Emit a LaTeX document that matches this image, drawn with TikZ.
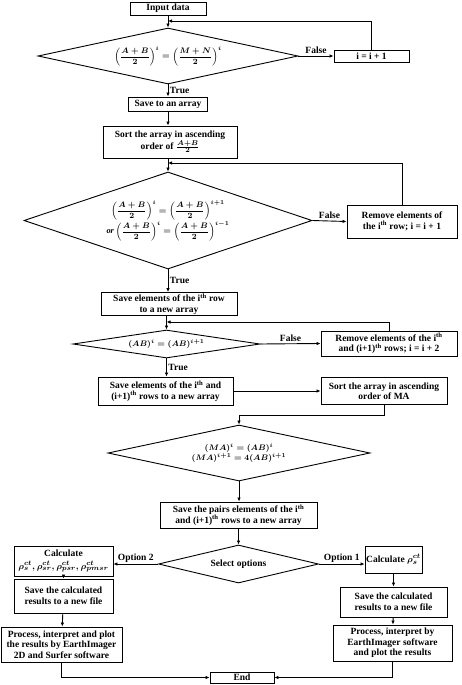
\documentclass[tikz,border=0pt]{standalone}
\usepackage{fontspec}
\setmainfont{Liberation Serif}
\usetikzlibrary{shapes.geometric,arrows.meta}
\begin{document}
\boldmath
\begin{tikzpicture}[x=1pt,y=-1pt,
  font=\fontsize{9.5}{10.5}\selectfont\bfseries\boldmath,
  box/.style={draw, line width=0.9pt, align=center, inner sep=1pt, fill=white},
  dec/.style={draw, diamond, line width=0.9pt, inner sep=0pt},
  dtext/.style={align=center, inner sep=0pt, font=\fontsize{8.3}{12}\selectfont\bfseries\boldmath},
  arr/.style={line width=0.9pt, -{Latex[length=4pt,width=3.5pt]}},
  ln/.style={line width=0.9pt},
  lab/.style={inner sep=1.5pt}]
\useasboundingbox (0,0) rectangle (462,685);
% nodes
\node[box, minimum width=76pt, minimum height=13pt] (in) at (168,8.5) {Input data};
\node[dec, minimum width=260pt, minimum height=56pt] (d1) at (168,56) {};
\node[dtext] (t1) at (d1.center)
  {$\displaystyle\left(\frac{A+B}{2}\right)^{i}=\left(\frac{M+N}{2}\right)^{i}$};
\node[box, minimum width=75pt, minimum height=12pt] (inc) at (371.5,56) {i = i + 1};
\node[box, minimum width=79pt, minimum height=14pt] (save1) at (168,104) {Save to an array};
\node[box, minimum width=134pt, minimum height=32pt] (sort1) at (170,142)
  {Sort the array in ascending\\ order of $\frac{A+B}{2}$};
\node[dec, minimum width=288pt, minimum height=97pt] (d2) at (168,220.5) {};
\node[dtext] (t2) at (d2.center)
  {$\displaystyle\left(\frac{A+B}{2}\right)^{i}=\left(\frac{A+B}{2}\right)^{i+1}$\\
   $\displaystyle\mathit{or}\left(\frac{A+B}{2}\right)^{i}=\left(\frac{A+B}{2}\right)^{i-1}$};
\node[box, minimum width=110pt, minimum height=33pt] (rm1) at (402,221.5)
  {Remove elements of\\ the i\textsuperscript{th} row; i = i + 1};
\node[box, minimum width=136pt, minimum height=22pt] (save2) at (169,304)
  {Save elements of the i\textsuperscript{th} row\\ to a new array};
\node[dec, minimum width=187pt, minimum height=28pt] (d3) at (166.5,344) {};
\node[dtext] (t3) at (d3.center) {$(AB)^{i}=(AB)^{i+1}$};
\node[box, minimum width=136pt, minimum height=25pt] (rm2) at (389,343.5)
  {Remove elements of the i\textsuperscript{th}\\ and (i+1)\textsuperscript{th} rows; i = i + 2};
\node[box, minimum width=135pt, minimum height=28pt] (save3) at (165.5,391)
  {Save elements of the i\textsuperscript{th} and\\ (i+1)\textsuperscript{th} rows to a new array};
\node[box, minimum width=126pt, minimum height=27pt] (sortMA) at (384,391)
  {Sort the array in ascending\\ order of MA};
\node[dec, minimum width=262pt, minimum height=56pt] (d4) at (239,453) {};
\node[dtext, font=\fontsize{8.3}{10}\selectfont\bfseries\boldmath] (t4) at (d4.center)
  {$(MA)^{i}=(AB)^{i}$\\ $(MA)^{i+1}=4(AB)^{i+1}$};
\node[box, minimum width=157pt, minimum height=26pt] (savep) at (238.5,515)
  {Save the pairs elements of the i\textsuperscript{th}\\ and (i+1)\textsuperscript{th} rows to a new array};
\node[dec, minimum width=160pt, minimum height=38pt] (d5) at (238.5,564) {};
\node[inner sep=0pt] (t5) at (d5.center) {Select options};
\node[box, minimum width=99pt, minimum height=30pt] (calcL) at (63.5,561)
  {Calculate\\[2pt] $\rho_s^{ct}{,}\,\rho_{sr}^{ct}{,}\,\rho_{psr}^{ct}{,}\,\rho_{pmsr}^{ct}$};
\node[box, minimum width=57pt, minimum height=27pt] (calcR) at (393.5,559.5)
  {Calculate $\rho_s^{ct}$};
\node[box, minimum width=99pt, minimum height=34pt] (saveL) at (63.5,596)
  {Save the calculated\\ results to a new file};
\node[box, minimum width=107pt, minimum height=30pt] (saveR) at (393.5,602)
  {Save the calculated\\ results to a new file};
\node[box, minimum width=121pt, minimum height=35pt] (procL) at (61.5,644.5)
  {Process, interpret and plot\\ the results by EarthImager\\ 2D and Surfer software};
\node[box, minimum width=119pt, minimum height=36pt] (procR) at (392.5,643)
  {Process, interpret by\\ EarthImager software\\ and plot the results};
\node[box, minimum width=64pt, minimum height=11pt] (end) at (242,677.5) {End};
% junction coordinates
\coordinate (j1) at (168,21);
\coordinate (j2) at (168,163);
\coordinate (j3) at (166.5,322);
\coordinate (k) at (239,415);
% connectors
\draw[arr] (in) -- (d1);
\draw[arr] (d1.east) -- node[lab, above] {False} (inc.west);
\draw[arr] (inc.north) |- (j1);
\draw[arr] (d1.south) -- node[lab, right] {True} (save1.north);
\draw[arr] (save1) -- (save1 |- sort1.north);
\draw[arr] (sort1.south -| d2.north) -- (d2.north);
\draw[arr] (d2.east) -- node[lab, above] {False} (rm1.west);
\draw[arr] (rm1.north) |- (j2);
\draw[arr] (d2.south) -- node[lab, right] {True} (d2.south |- save2.north);
\draw[arr] (save2.south -| d3.north) -- (d3.north);
\draw[arr] (d3.east) -- node[lab, above] {False} (rm2.west);
\draw[arr] (rm2.north) |- (j3);
\draw[arr] (d3.south) -- node[lab, right] {True} (d3.south |- save3.north);
\draw[arr] (save3.east) -- (save3.east -| sortMA.west);
\draw[ln] (sortMA.south) |- (k);
\draw[arr] (k) -- (d4.north);
\draw[arr] (d4.south) -- (d4.south |- savep.north);
\draw[arr] (savep.south -| d5.north) -- (d5.north);
\draw[arr] (d5.west) -- node[lab, above] {Option 2} (d5.west -| calcL.east);
\draw[arr] (d5.east) -- node[lab, above] {Option 1} (d5.east -| calcR.west);
\draw[arr] (calcL) -- (saveL);
\draw[arr] (saveL) -- (procL);
\draw[arr] (calcR) -- (saveR);
\draw[arr] (saveR) -- (procR);
\draw[arr] (procL.south) |- (end.west);
\draw[arr] (procR.south) |- (end.east);
\end{tikzpicture}
\end{document}
